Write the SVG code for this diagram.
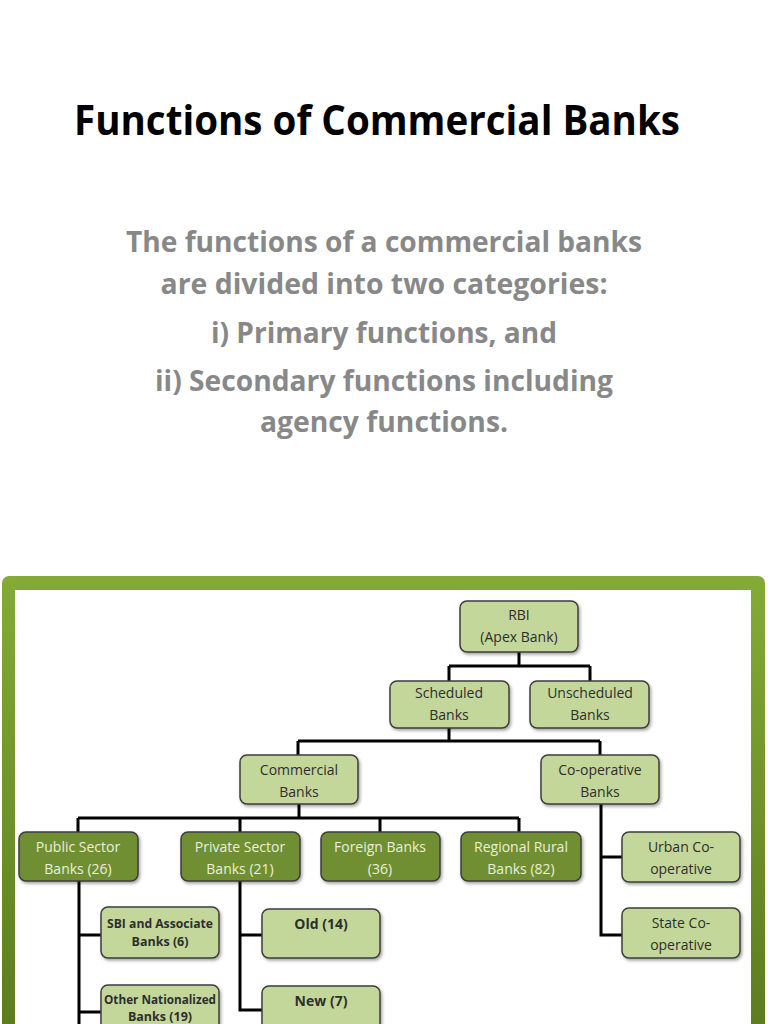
<svg xmlns="http://www.w3.org/2000/svg" width="768" height="1024" viewBox="0 0 768 1024">
<defs>
<linearGradient id="frameGrad" x1="0" y1="0" x2="0" y2="1">
<stop offset="0" stop-color="#84ab36"/>
<stop offset="1" stop-color="#5b7a1e"/>
</linearGradient>
<filter id="sh" x="-10%" y="-10%" width="130%" height="140%">
<feDropShadow dx="1.5" dy="2" stdDeviation="1.5" flood-color="#000" flood-opacity="0.35"/>
</filter>
<style>
.title{font-family:"Open Sans","Liberation Sans",Arial,sans-serif;font-weight:bold;font-size:42px;fill:#000;text-anchor:middle}
.body{font-family:"Open Sans","Liberation Sans",Arial,sans-serif;font-weight:bold;font-size:28px;fill:#888888;text-anchor:middle}
.lt rect{fill:#c4d79b;stroke:#3c3c3c;stroke-width:1.5;filter:url(#sh)}
.dk rect{fill:#6f8f30;stroke:#3c3c3c;stroke-width:1.5;filter:url(#sh)}
.lt text{font-family:"Open Sans","Liberation Sans",Arial,sans-serif;font-size:14px;fill:#2e2e2e;text-anchor:middle}
.dk text{font-family:"Open Sans","Liberation Sans",Arial,sans-serif;font-size:14px;fill:#e9f0dc;text-anchor:middle}
.sm text{font-size:12.5px}
.bd text{font-weight:bold}
.conn{fill:none;stroke:#000;stroke-width:3}
</style>
</defs>
<rect width="768" height="1024" fill="#fff"/>
<text class="title" x="377" y="135" textLength="606" lengthAdjust="spacingAndGlyphs">Functions of Commercial Banks</text>
<g id="bodytext">
<text class="body" x="384" y="252" textLength="516" lengthAdjust="spacingAndGlyphs">The functions of a commercial banks</text>
<text class="body" x="384" y="294" textLength="447" lengthAdjust="spacingAndGlyphs">are divided into two categories:</text>
<text class="body" x="384" y="343" textLength="346" lengthAdjust="spacingAndGlyphs">i) Primary functions, and</text>
<text class="body" x="384" y="391" textLength="458" lengthAdjust="spacingAndGlyphs">ii) Secondary functions including</text>
<text class="body" x="384" y="432" textLength="248" lengthAdjust="spacingAndGlyphs">agency functions.</text>
</g>
<g id="frame">
<rect x="2" y="576" width="763" height="470" rx="7" fill="url(#frameGrad)"/>
<rect x="15" y="590" width="736" height="460" fill="#fff"/>
</g>
<g id="connectors">
<path class="conn" d="M519 652 V666 M449 666 H590 M449 666 V681 M590 666 V681"/>
<path class="conn" d="M449 728 V741 M298 741 H600 M298 741 V755 M600 741 V755"/>
<path class="conn" d="M299 804 V818 M78 818 H519 M78 818 V832 M240 818 V832 M380 818 V832 M519 818 V832"/>
<path class="conn" d="M79 881 V1030 M79 935 H101 M79 1012 H101"/>
<path class="conn" d="M240 881 V1010 H262 M240 935 H262"/>
<path class="conn" d="M601 804 V935 H622 M601 857 H622"/>
</g>
<g id="rbi" class="lt"><rect x="460" y="601" width="118" height="51" rx="7"/><text x="519" y="620">RBI</text><text x="519" y="642">(Apex Bank)</text></g>
<g id="scheduled" class="lt"><rect x="390" y="681" width="119" height="47" rx="7"/><text x="449" y="698">Scheduled</text><text x="449" y="720">Banks</text></g>
<g id="unscheduled" class="lt"><rect x="530" y="681" width="119" height="47" rx="7"/><text x="590" y="698">Unscheduled</text><text x="590" y="720">Banks</text></g>
<g id="commercial" class="lt"><rect x="240" y="755" width="118" height="49" rx="7"/><text x="299" y="775">Commercial</text><text x="299" y="797">Banks</text></g>
<g id="cooperative" class="lt"><rect x="541" y="755" width="118" height="49" rx="7"/><text x="600" y="775">Co-operative</text><text x="600" y="797">Banks</text></g>
<g id="public" class="dk"><rect x="19" y="832" width="119" height="49" rx="7"/><text x="78" y="852">Public Sector</text><text x="78" y="874">Banks (26)</text></g>
<g id="private" class="dk"><rect x="181" y="832" width="119" height="49" rx="7"/><text x="240" y="852">Private Sector</text><text x="240" y="874">Banks (21)</text></g>
<g id="foreign" class="dk"><rect x="321" y="832" width="119" height="49" rx="7"/><text x="380" y="852">Foreign Banks</text><text x="380" y="874">(36)</text></g>
<g id="rrb" class="dk"><rect x="461" y="832" width="120" height="49" rx="7"/><text x="521" y="852">Regional Rural</text><text x="521" y="874">Banks (82)</text></g>
<g id="urban" class="lt"><rect x="622" y="832" width="118" height="50" rx="7"/><text x="681" y="852">Urban Co-</text><text x="681" y="874">operative</text></g>
<g id="state" class="lt"><rect x="622" y="908" width="118" height="50" rx="7"/><text x="681" y="928">State Co-</text><text x="681" y="950">operative</text></g>
<g id="sbi" class="lt sm bd"><rect x="101" y="907" width="118" height="51" rx="7"/><text x="160" y="928" textLength="106" lengthAdjust="spacingAndGlyphs">SBI and Associate</text><text x="160" y="946">Banks (6)</text></g>
<g id="othernat" class="lt sm bd"><rect x="101" y="985" width="118" height="50" rx="7"/><text x="160" y="1004" textLength="112" lengthAdjust="spacingAndGlyphs">Other Nationalized</text><text x="160" y="1021">Banks (19)</text></g>
<g id="old" class="lt bd"><rect x="262" y="909" width="118" height="49" rx="7"/><text x="321" y="929">Old (14)</text></g>
<g id="new" class="lt bd"><rect x="262" y="986" width="118" height="49" rx="7"/><text x="321" y="1006">New (7)</text></g>
</svg>
